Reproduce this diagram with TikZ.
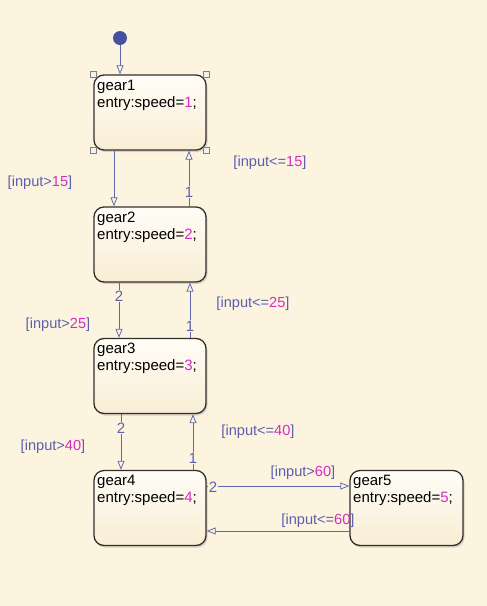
\documentclass[tikz,border=0pt]{standalone}
\usepackage{fontspec}
\setmainfont{Liberation Sans}
\usetikzlibrary{arrows.meta,shadows}
\definecolor{bg}{RGB}{253,244,224}
\definecolor{lblue}{RGB}{92,96,172}
\definecolor{cblue}{RGB}{96,104,176}
\definecolor{mag}{RGB}{212,44,196}
\definecolor{dotc}{RGB}{72,80,160}
\definecolor{boxtop}{RGB}{255,253,247}
\definecolor{boxbot}{RGB}{249,237,212}
\definecolor{border}{RGB}{50,48,44}
\tikzset{
  state/.style={draw=border, line width=1.3pt, rounded corners=10pt,
    minimum width=112pt, minimum height=75pt, inner sep=0pt,
    top color=boxtop, bottom color=boxbot,
    drop shadow={opacity=0.3, shadow xshift=1.5pt, shadow yshift=-2pt}},
  stxt/.style={anchor=north west, align=left, inner sep=0pt,
    font=\fontsize{15}{17}\selectfont},
  trans/.style={draw=cblue, line width=0.8pt,
    -{Triangle[open, length=9pt, width=7pt, line width=0.8pt]}},
  guard/.style={text=lblue, inner sep=0pt, font=\fontsize{14.6}{16}\selectfont},
  num/.style={text=lblue, fill=bg, inner sep=1pt, font=\fontsize{15}{16}\selectfont},
  handle/.style={draw=gray, fill=white!90!gray, line width=0.5pt, minimum size=6pt, inner sep=0pt}
}
\newcommand{\mg}[1]{\textcolor{mag}{#1}}
\begin{document}
\begin{tikzpicture}[x=1pt,y=-1pt]
\fill[bg] (0,0) rectangle (487,606);
\useasboundingbox (0,0) rectangle (487,606);

% states
\node[state] (g1) at (150,112.5) {};
\node[state] (g2) at (150,244.5) {};
\node[state] (g3) at (150,376) {};
\node[state] (g4) at (150,508) {};
\node[state, minimum width=113pt] (g5) at (406.5,508) {};

\node[stxt] (t1) at (97,80) {gear1\\entry:speed=\mg{1};};
\node[stxt] (t2) at (97,212) {gear2\\entry:speed=\mg{2};};
\node[stxt] (t3) at (97,343) {gear3\\entry:speed=\mg{3};};
\node[stxt] (t4) at (97,475) {gear4\\entry:speed=\mg{4};};
\node[stxt] (t5) at (353,475) {gear5\\entry:speed=\mg{5};};

% selection handles on gear1
\node[handle] (h1) at (g1.north west) {};
\node[handle] (h2) at (g1.north east) {};
\node[handle] (h3) at (g1.south west) {};
\node[handle] (h4) at (g1.south east) {};

% default transition
\node[circle, fill=dotc, minimum size=14pt, inner sep=0pt] (init) at (120,38) {};
\draw[trans] (init) -- ([xshift=-30pt]g1.north);

% down transitions
\draw[trans] ([xshift=-36pt]g1.south) -- ([xshift=-36pt]g2.north);
\draw[trans] ([xshift=-31pt]g2.south) -- ([xshift=-31pt]g3.north);
\draw[trans] ([xshift=-29pt]g3.south) -- ([xshift=-29pt]g4.north);

% up transitions
\draw[trans] ([xshift=39pt]g2.north) -- ([xshift=39pt]g1.south);
\draw[trans] ([xshift=40pt]g3.north) -- ([xshift=40pt]g2.south);
\draw[trans] ([xshift=43pt]g4.north) -- ([xshift=43pt]g3.south);

% horizontal transitions
\draw[trans] ([yshift=22pt]g4.east) -- ([yshift=22pt]g5.west);
\draw[trans] ([yshift=-23pt]g5.west) -- ([yshift=-23pt]g4.east);

% order numbers
\node[num] (n21) at (189,192) {1};
\node[num] (n32) at (119,296) {2};
\node[num] (n31) at (190,326) {1};
\node[num] (n43) at (121,428) {2};
\node[num] (n41) at (193,458) {1};
\node[num] (n45) at (213,487) {2};

% guards
\node[guard] (l1) at (40,183) {[input>\mg{15}]};
\node[guard] (l2) at (270,163) {[input<=\mg{15}]};
\node[guard] (l3) at (58,325) {[input>\mg{25}]};
\node[guard] (l4) at (253,304) {[input<=\mg{25}]};
\node[guard] (l5) at (53,447) {[input>\mg{40}]};
\node[guard] (l6) at (258,432) {[input<=\mg{40}]};
\node[guard] (l7) at (303,473) {[input>\mg{60}]};
\node[guard] (l8) at (318,521) {[input<=\mg{60}]};
\end{tikzpicture}
\end{document}
